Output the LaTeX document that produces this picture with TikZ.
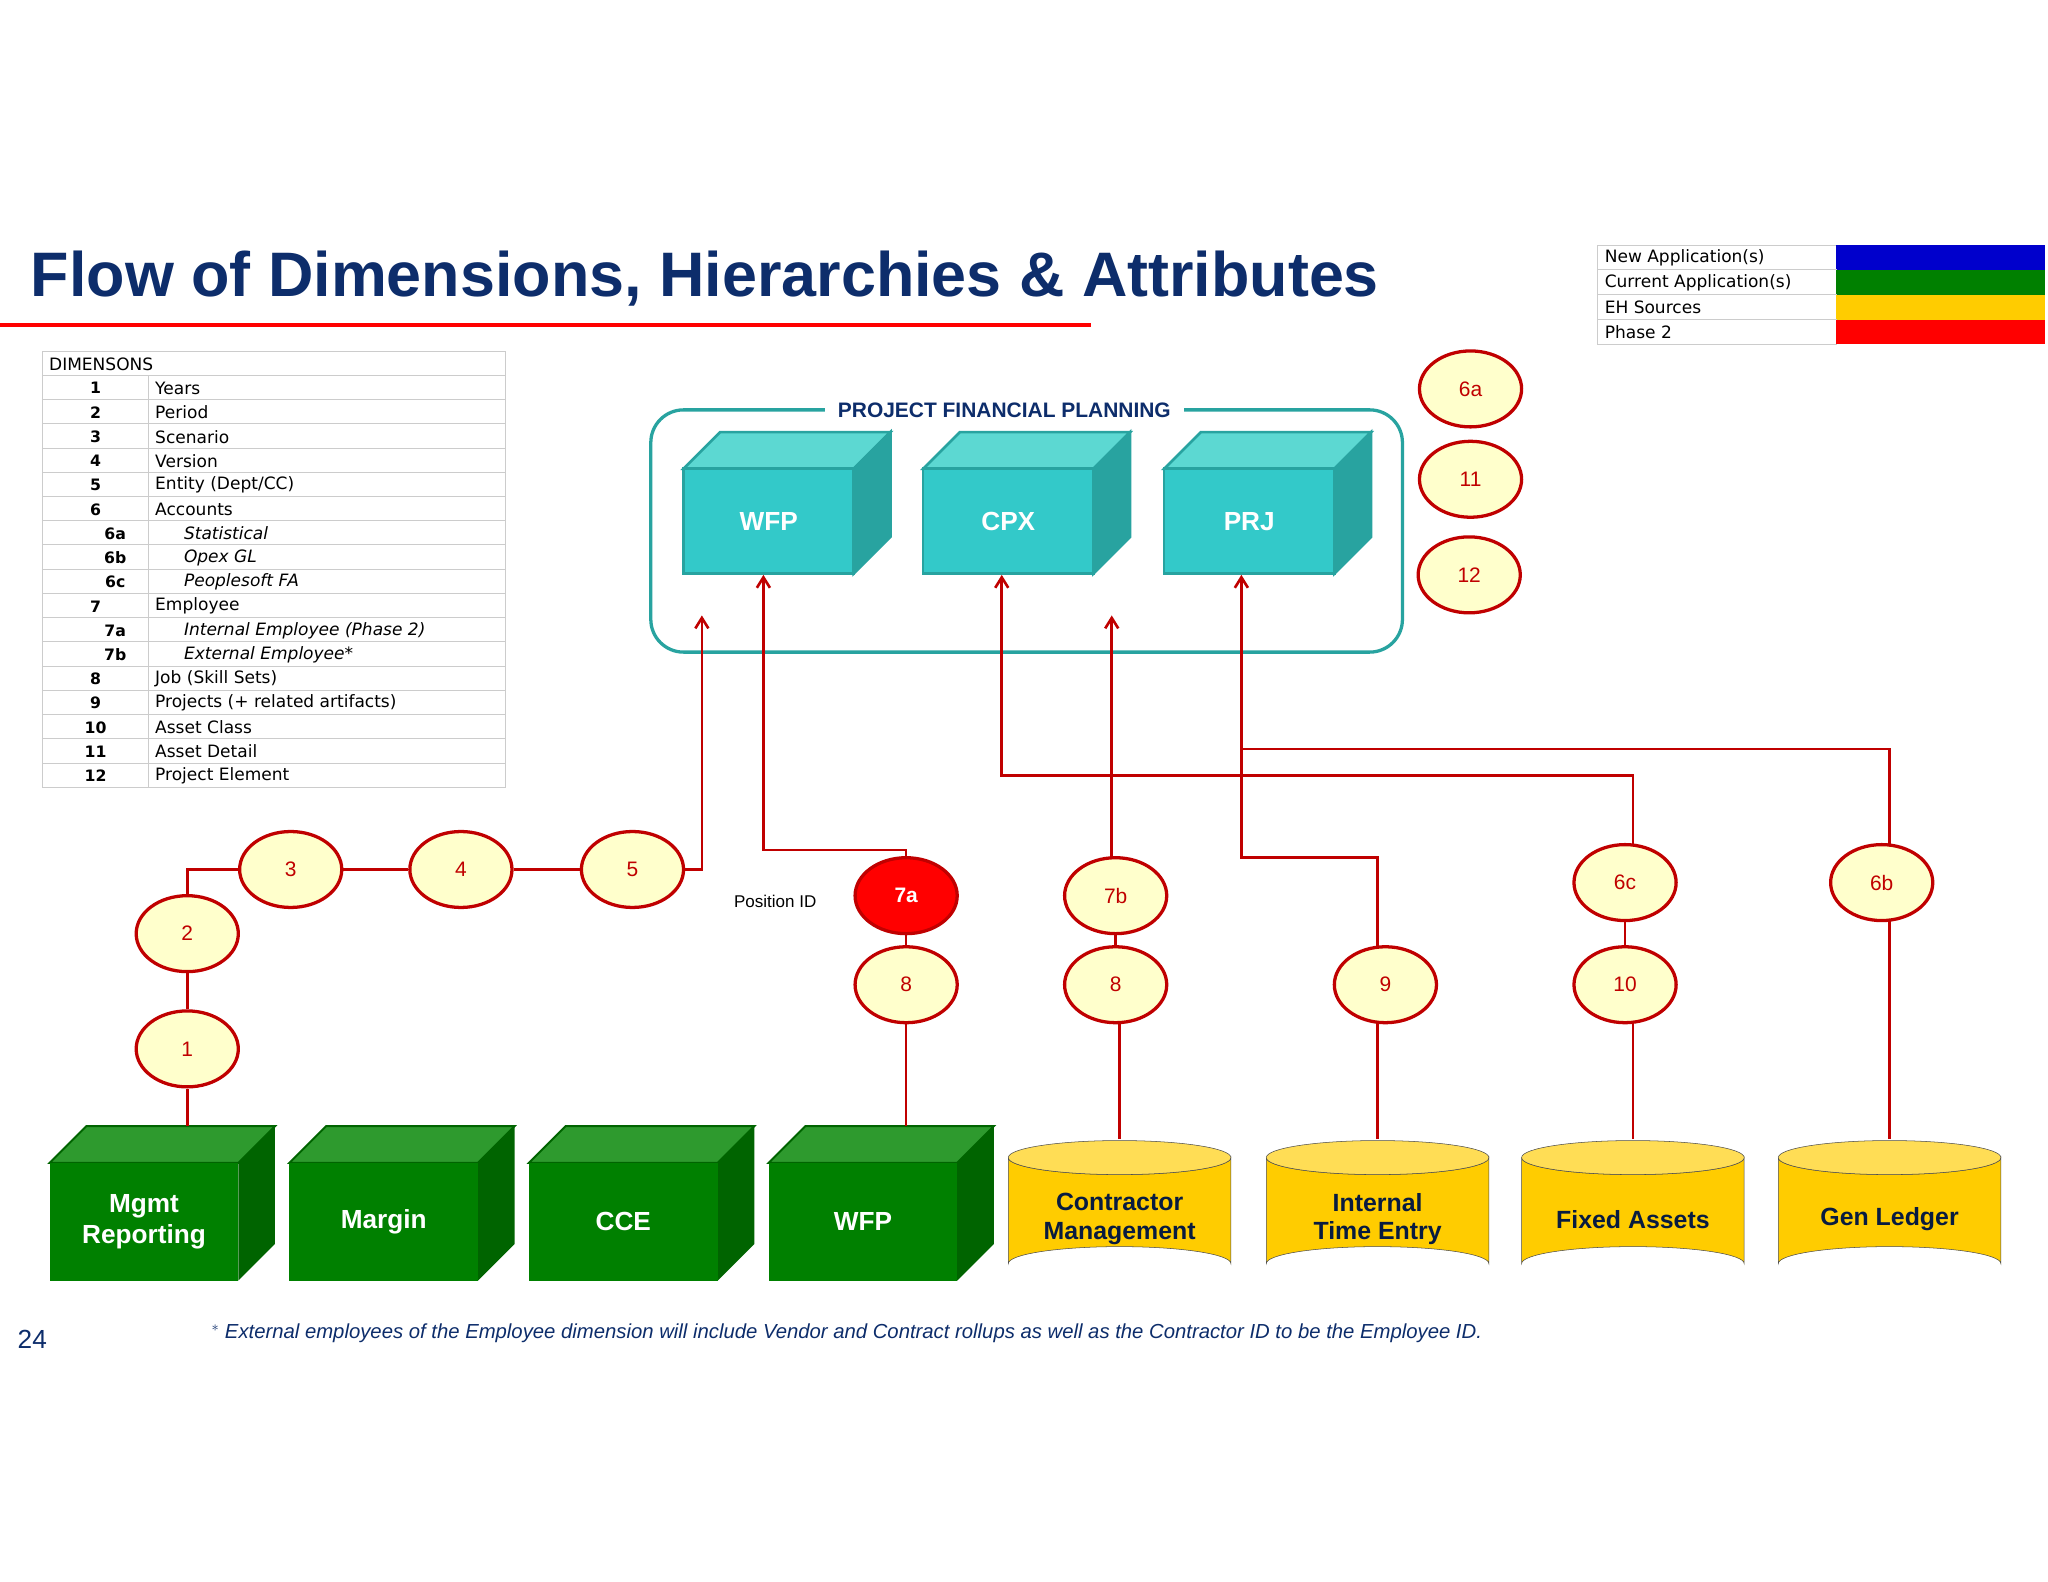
\documentclass[tikz,border=0pt]{standalone}
\usepackage{fontspec}
\setmainfont{Liberation Sans}
\newfontfamily\tabfont{DejaVu Sans}
\usetikzlibrary{arrows.meta,shapes.geometric}
\definecolor{dred}{HTML}{C00000}
\definecolor{tblue}{HTML}{0D2D6B}
\definecolor{teal1}{HTML}{33C9C9}
\definecolor{teal2}{HTML}{5CD8D2}
\definecolor{teal3}{HTML}{28A3A0}
\definecolor{g1}{HTML}{008000}
\definecolor{g2}{HTML}{2E9A2E}
\definecolor{g3}{HTML}{006400}
\definecolor{y1}{HTML}{FFCC00}
\definecolor{y2}{HTML}{FFDD55}
\definecolor{ell}{HTML}{FFFFCC}
\begin{document}
\begin{tikzpicture}[x=1pt,y=-1pt,
 num/.style={ellipse,draw=dred,line width=2.5pt,fill=ell,minimum width=78pt,minimum height=58pt,inner sep=0pt,font=\fontsize{16}{18}\selectfont,text=dred},
 wire/.style={dred,line width=2pt},
 arr/.style={wire,-{Straight Barb[length=8pt,width=10pt]}},
 clab/.style={text=white,font=\bfseries\fontsize{20}{23}\selectfont,align=center},
 ylab/.style={text=tblue!60!black,font=\bfseries\fontsize{19}{22}\selectfont,align=center}]
\useasboundingbox (0,0) rectangle (1564,1208);
\fill[white] (0,0) rectangle (1564,1208);
% title
\node[anchor=west,text=tblue,font=\bfseries\fontsize{48}{52}\selectfont] (title) at (20,213) {Flow of Dimensions, Hierarchies \& Attributes};
\draw[red,line width=3pt] (0,248) -- (833,248);
% legend
\foreach \t/\c [count=\i from 0] in {New Application(s)/blue!80!black,Current Application(s)/g1,EH Sources/y1,Phase 2/red}{
 \draw[gray!40] (1220,187+\i*19) rectangle (1402,206+\i*19);
 \fill[\c] (1402,187+\i*19) rectangle (1562,206+\i*19);
 \node[anchor=west,font=\tabfont\fontsize{13}{14}\selectfont] at (1222,197+\i*19) {\t};}
% table
\draw[gray!40] (32,268) rectangle (386,601);
\node[anchor=west,font=\tabfont\fontsize{13}{14}\selectfont] at (34,278) {DIMENSONS};
\foreach \n/\t/\s [count=\i] in {1/Years/0,2/Period/0,3/Scenario/0,4/Version/0,5/{Entity (Dept/CC)}/0,6/Accounts/0,6a/Statistical/1,6b/Opex GL/1,6c/Peoplesoft FA/1,7/Employee/0,7a/Internal Employee (Phase 2)/1,7b/External Employee*/1,8/Job (Skill Sets)/0,9/Projects (+ related artifacts)/0,10/Asset Class/0,11/Asset Detail/0,12/Project Element/0}{
 \draw[gray!40] (32,268+\i*18.5) -- (386,268+\i*18.5);
 \ifnum\s=0
  \node[font=\tabfont\bfseries\fontsize{12}{13}\selectfont] at (73,278+\i*18.5) {\n};
  \node[anchor=west,font=\tabfont\fontsize{13}{14}\selectfont] at (115,278+\i*18.5) {\t};
 \else
  \node[font=\tabfont\bfseries\fontsize{12}{13}\selectfont] at (88,278+\i*18.5) {\n};
  \node[anchor=west,font=\tabfont\itshape\fontsize{13}{14}\selectfont] at (137,278+\i*18.5) {\t};
 \fi}
\draw[gray!40] (113,286.5) -- (113,601);
% frame
\draw[teal3,line width=2.5pt,rounded corners=25pt] (497,313) rectangle (1071,498);
\node[fill=white,text=tblue,font=\bfseries\fontsize{16}{18}\selectfont,inner xsep=10pt] (pfp) at (767,313) {PROJECT FINANCIAL PLANNING};
% teal cubes
\foreach \x/\t in {522/WFP,705/CPX,889/PRJ}{
 \fill[teal2,draw=teal3,line width=2pt] (\x,358) -- (\x+28,330) -- (\x+158,330) -- (\x+130,358) -- cycle;
 \fill[teal3,draw=teal3,line width=2pt] (\x+130,358) -- (\x+158,330) -- (\x+158,410) -- (\x+130,438) -- cycle;
 \fill[teal1,draw=teal3,line width=2pt] (\x,358) rectangle (\x+130,438);
 \node[clab] (c\t) at (\x+65,398) {\t};}
% green cubes
\foreach \x/\t/\nm in {38/{Mgmt\\Reporting}/mr,221/Margin/mg,404/CCE/cce,587/WFP/gw}{
 \fill[g2,draw=g3,line width=1.5pt] (\x,888) -- (\x+28,860) -- (\x+172,860) -- (\x+144,888) -- cycle;
 \fill[g3] (\x+144,888) -- (\x+172,860) -- (\x+172,950) -- (\x+144,978) -- cycle;
 \fill[g1] (\x,888) rectangle (\x+144,978);
 \node[clab] (\nm) at (\x+72,933) {\t};}
% cylinders
\foreach \x/\t/\nm in {855/{Contractor\\Management}/cm,1052/{Internal\\Time Entry}/ite,1247/Fixed Assets/fa,1443/Gen Ledger/gl}{
 \fill[y1,draw=gray!60!black] (\x-85,884) -- (\x-85,965) arc[start angle=180,end angle=360,x radius=85,y radius=13] -- (\x+85,884) arc[start angle=0,end angle=180,x radius=85,y radius=13];
 \fill[y2,draw=gray!60!black] (\x,884) ellipse[x radius=85,y radius=13];
 \node[ylab] (\nm) at (\x,931) {\t};}
% ellipses
\node[num] (n1) at (143,801) {1};
\node[num] (n2) at (143,713) {2};
\node[num] (n3) at (222,664) {3};
\node[num] (n4) at (352,664) {4};
\node[num] (n5) at (483,664) {5};
\node[num,fill=red,text=white,font=\bfseries\fontsize{16}{18}\selectfont] (n7a) at (692,684) {7a};
\node[num] (n8a) at (692,752) {8};
\node[num] (n7b) at (852,684) {7b};
\node[num] (n8b) at (852,752) {8};
\node[num] (n9) at (1058,752) {9};
\node[num] (n6c) at (1241,674) {6c};
\node[num] (n10) at (1241,752) {10};
\node[num] (n6b) at (1437,674) {6b};
\node[num] (n6a) at (1123,297) {6a};
\node[num] (n11) at (1123,366) {11};
\node[num] (n12) at (1122,439) {12};
\node[font=\fontsize{13}{15}\selectfont] (pid) at (592,688) {Position ID};
% wires
\coordinate (a5) at (536,470);
\coordinate (a7b) at (849,470);
\begin{scope}[on background layer/.style={}]
\end{scope}
\draw[wire] (143,860) -- (n1); \draw[wire] (n1) -- (n2); \draw[wire] (n2) |- (n3);
\draw[wire] (n3) -- (n4); \draw[wire] (n4) -- (n5);
\draw[arr] (n5.east) -| (a5);
\draw[wire] (692,860) -- (n8a); \draw[wire] (n8a) -- (n7a);
\draw[arr] (n7a.north) -- (692,649) -| (583,439);
\draw[wire] (855,870) -- (855,781); \draw[wire] (n8b) -- (n7b);
\draw[arr] (849,655) -- (a7b);
\draw[wire] (1052,870) -- (1052,781);
\draw[arr] (1052,723) -- (1052,655) -| (948,439);
\draw[wire] (1247,870) -- (1247,781); \draw[wire] (n10) -- (n6c);
\draw[arr] (1247,645) -- (1247,592) -| (765,439);
\draw[wire] (1443,870) -- (1443,703);
\draw[wire] (1443,645) -- (1443,572) -- (948,572);
% footer
\node[anchor=west,text=tblue,font=\fontsize{20}{22}\selectfont] (pg) at (10,1023) {24};
\node[anchor=west,text=tblue,font=\itshape\fontsize{15.5}{17}\selectfont] (fn) at (158,1018) {$^{*}$ External employees of the Employee dimension will include Vendor and Contract rollups as well as the Contractor ID to be the Employee ID.};
\end{tikzpicture}
\end{document}
